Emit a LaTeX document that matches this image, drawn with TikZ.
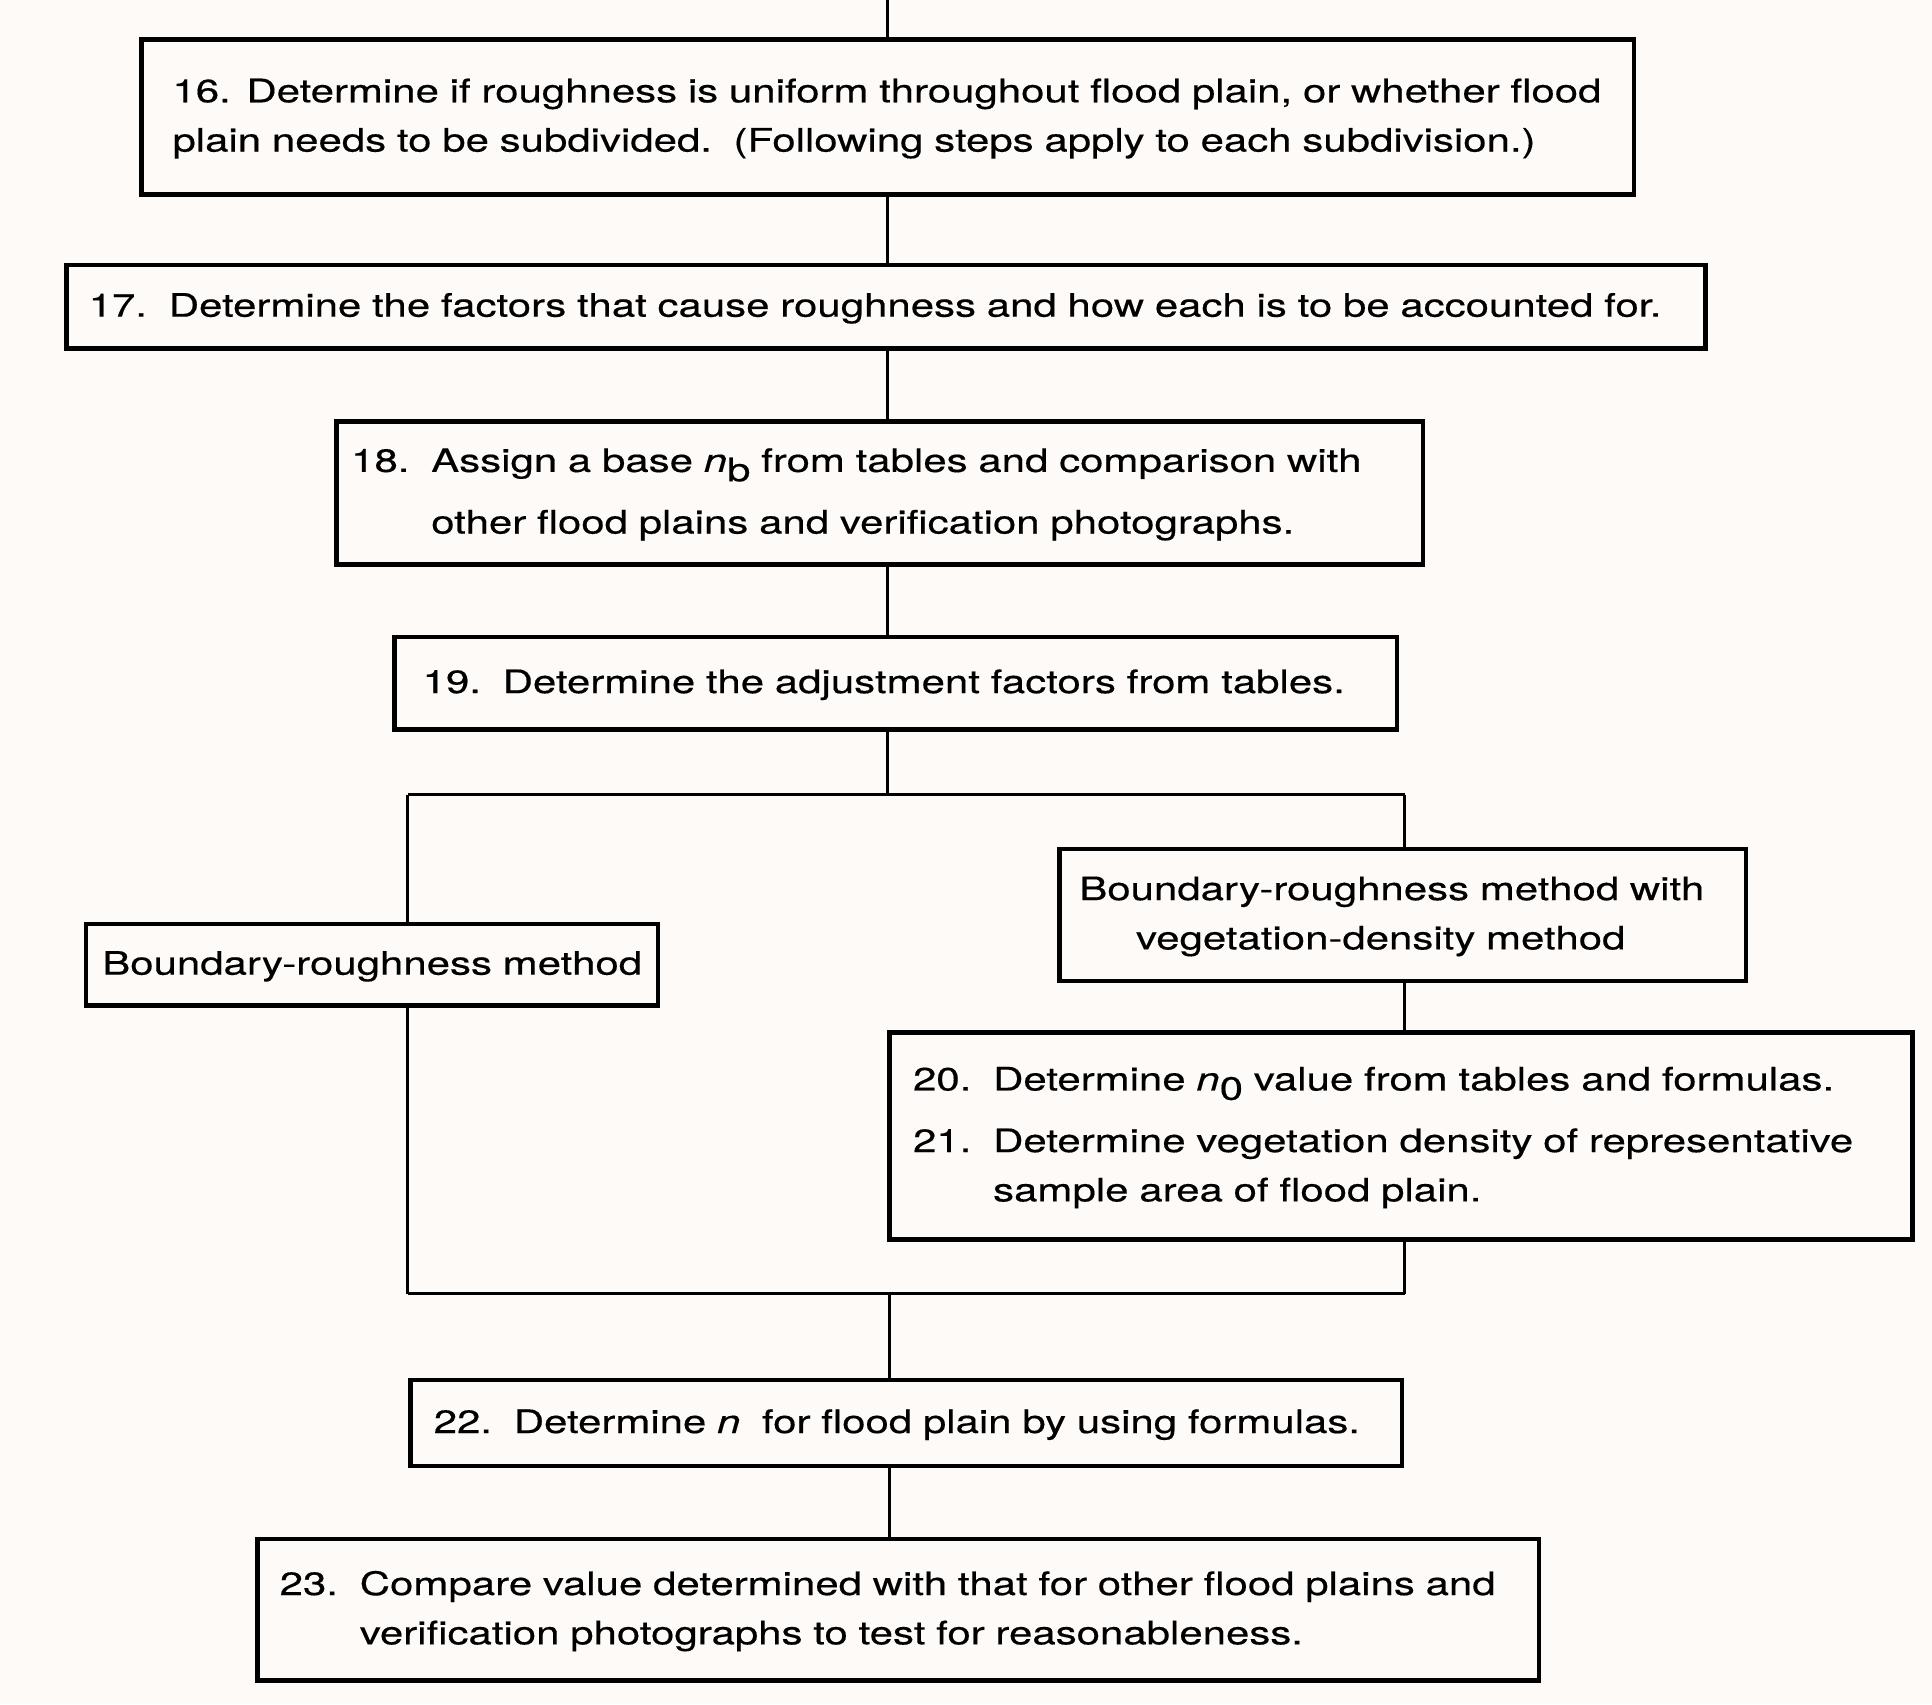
\documentclass[tikz,border=0pt]{standalone}
\usepackage{fontspec}
\setmainfont[FakeStretch=1.3, FakeBold=0.4]{TeX Gyre Heros}
\usetikzlibrary{positioning}
\definecolor{paper}{RGB}{253,250,248}
\tikzset{
    stepbox/.style={
        draw,
        line width=1.8pt,
        align=left,
        inner ysep=0pt,
        font=\fontsize{13.1}{20}\selectfont
    },
    link/.style={
        line width=1.2pt
    }
}
\newcommand{\stepno}[1]{\makebox[32.5pt][l]{#1}}
\newcommand{\nsub}[1]{\textit{n}\raisebox{-0.55ex}{#1}}
\newcommand{\onerow}[1]{\begin{tabular}{@{}l@{}}#1\end{tabular}}

\begin{document}
\begin{tikzpicture}[x=0.5pt, y=-0.5pt]
    \fill[paper] (0,0) rectangle (1568,1383);
    \useasboundingbox (0,0) rectangle (1568,1383);

    % Steps 16 - 19
    \node[stepbox, minimum height=63pt, text width=580.5pt, inner xsep=12.5pt] (s16) at (720.5,95)
        {\onerow{\makebox[30pt][l]{16.}Determine if roughness is uniform throughout flood plain, or whether flood\\
         plain needs to be subdivided.\ \ (Following steps apply to each subdivision.)}};
    \node[stepbox, minimum height=34pt, text width=647pt, inner xsep=9pt] (s17) at (719,249)
        {\onerow{\makebox[32.5pt][l]{17.}Determine the factors that cause roughness and how each is to be accounted for.}};
    \node[stepbox, minimum height=58pt, text width=429pt, inner xsep=6pt] (s18) at (714,400)
        {\begin{tabular}{@{}p{32.5pt}@{}l@{}}
         18. & Assign a base \nsub{b} from tables and comparison with\\[5pt]
             & other flood plains and verification photographs.
         \end{tabular}};
    \node[stepbox, minimum height=37.5pt, text width=384pt, inner xsep=11.5pt] (s19) at (727,554.5)
        {\onerow{\stepno{19.}Determine the adjustment factors from tables.}};

    % Methods
    \node[stepbox, minimum height=33pt, text width=219pt, inner xsep=6.5pt] (brm) at (302,783)
        {\onerow{Boundary-roughness method}};
    \node[stepbox, minimum height=53.5pt, text width=262.5pt, inner xsep=8pt] (brv) at (1138.5,742.5)
        {\onerow{Boundary-roughness method with\\ \hspace*{23pt}vegetation-density method}};
    \node[stepbox, minimum height=84pt, text width=396pt, inner xsep=9.5pt] (s20) at (1137,922)
        {\begin{tabular}{@{}p{32.5pt}@{}l@{}}
         20. & Determine \nsub{0} value from tables and formulas.\\[5pt]
         21. & Determine vegetation density of representative\\
             & sample area of flood plain.
         \end{tabular}};

    % Steps 22 - 23
    \node[stepbox, minimum height=35pt, text width=383.5pt, inner xsep=9.5pt] (s22) at (735.5,1155)
        {\onerow{\stepno{22.}Determine \textit{n}\ \ for flood plain by using formulas.}};
    \node[stepbox, minimum height=57.5pt, text width=502pt, inner xsep=9pt] (s23) at (729,1306.5)
        {\begin{tabular}{@{}p{32.5pt}@{}l@{}}
         23. & Compare value determined with that for other flood plains and\\
             & verification photographs to test for reasonableness.
         \end{tabular}};

    % Fork and join points
    \coordinate (top) at (720,0);
    \coordinate (fork) at (720,645);
    \coordinate (forkL) at (331,645);
    \coordinate (forkR) at (1140,645);
    \coordinate (joinL) at (331,1050);
    \coordinate (joinR) at (1140,1050);
    \coordinate (merge) at (722,1050);

    % Connectors
    \draw[link] (top) -- (top |- s16.north);
    \draw[link] (s16.south -| top) -- (s17.north -| top);
    \draw[link] (s17.south -| top) -- (s18.north -| top);
    \draw[link] (s18.south -| top) -- (s19.north -| top);
    \draw[link] (s19.south -| top) -- (fork);
    \draw[link] (forkL) -- (forkR);
    \draw[link] (forkL) -- (forkL |- brm.north);
    \draw[link] (brm.south -| forkL) -- (joinL);
    \draw[link] (forkR) -- (forkR |- brv.north);
    \draw[link] (brv.south -| forkR) -- (forkR |- s20.north);
    \draw[link] (s20.south -| forkR) -- (joinR);
    \draw[link] (joinL) -- (joinR);
    \draw[link] (merge) -- (merge |- s22.north);
    \draw[link] (s22.south -| merge) -- (s23.north -| merge);
\end{tikzpicture}
\end{document}
